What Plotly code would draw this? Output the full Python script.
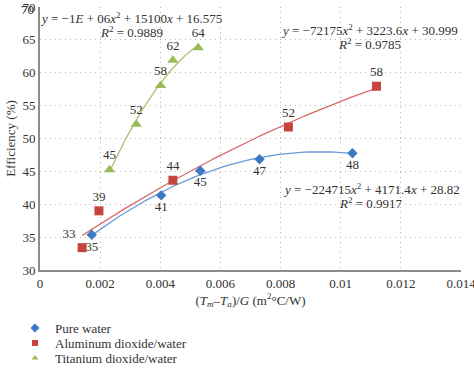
import numpy as np
import plotly.graph_objects as go

# Data
pure_x = [0.00172, 0.00403, 0.00533, 0.00730, 0.01039]
pure_y = [35.35, 41.35, 45.1, 46.85, 47.75]
pure_lbl = ["35", "41", "45", "47", "48"]
pure_pos = ["bottom center"] * 5

alu_x = [0.00140, 0.00196, 0.00442, 0.00826, 0.01119]
alu_y = [33.4, 39.0, 43.65, 51.75, 57.95]
alu_lbl = ["33", "39", "44", "52", "58"]
alu_pos = ["top left", "top center", "top center", "top center", "top center"]

ti_x = [0.00231, 0.00320, 0.00401, 0.00442, 0.00526]
ti_y = [45.25, 52.15, 58.05, 61.9, 63.8]
ti_lbl = ["45", "52", "58", "62", "64"]
ti_pos = ["top center"] * 5

x_ticks = [0, 0.002, 0.004, 0.006, 0.008, 0.01, 0.012, 0.014]
x_ticktext = ["0", "0.002", "0.004", "0.006", "0.008", "0.01", "0.012", "0.014"]
y_ticks = [30, 35, 40, 45, 50, 55, 60, 65, 70]
y_max = 70

eq_ti = ("<i>y</i> = −1<i>E</i> + 06<i>x</i><sup>2</sup> + 15100<i>x</i> + 16.575",
         "<i>R</i><sup>2</sup> = 0.9889")
eq_alu = ("<i>y</i> = −72175<i>x</i><sup>2</sup> + 3223.6<i>x</i> + 30.999",
          "<i>R</i><sup>2</sup> = 0.9785")
eq_pure = ("<i>y</i> = −224715<i>x</i><sup>2</sup> + 4171.4<i>x</i> + 28.82",
           "<i>R</i><sup>2</sup> = 0.9917")

FONT = "Liberation Serif"
TXT = "#333333"
GRID = "#B5B5B5"

series = [
    ("Pure water", pure_x, pure_y, pure_lbl, pure_pos, "#3E78C0", "#6A9AD6", "diamond", 8, 7),
    ("Aluminum dioxide/water", alu_x, alu_y, alu_lbl, alu_pos, "#C8443F", "#D86A66", "square", 9, 6),
    ("Titanium dioxide/water", ti_x, ti_y, ti_lbl, ti_pos, "#9BBB59", "#A9C46E", "triangle-up", 10, 6),
]

L, R, T, B = 40, 461, 7, 270
def px(xpix, ypix):
    return (xpix - L) / (R - L), (B - ypix) / (B - T)

fig = go.Figure()
# trendlines (2nd order polynomial fits of each series)
for s in series:
    name, xs, ys, lbl, pos, mc, lc, sym, sz, lsz = s
    c = np.polyfit(xs, ys, 2)
    xx = np.linspace(min(xs), max(xs), 60)
    fig.add_trace(go.Scatter(x=xx, y=np.polyval(c, xx), mode="lines",
                             line=dict(color=lc, width=1.3), showlegend=False,
                             hoverinfo="skip"))
for s in series:
    name, xs, ys, lbl, pos, mc, lc, sym, sz, lsz = s
    fig.add_trace(go.Scatter(x=xs, y=ys, mode="markers+text", name=name,
                             text=lbl, textposition=pos, showlegend=False,
                             textfont=dict(family=FONT, size=13, color=TXT),
                             marker=dict(symbol=sym, size=sz, color=mc)))

# legend entries, one legend per row for compact spacing
legend_rows = [328, 343, 358]
legend_layout = {}
for i, s in enumerate(series):
    name, xs, ys, lbl, pos, mc, lc, sym, sz, lsz = s
    key = "legend" if i == 0 else f"legend{i + 1}"
    fig.add_trace(go.Scatter(x=[None], y=[None], mode="markers", name=name,
                             legend=key, showlegend=True,
                             marker=dict(symbol=sym, size=lsz, color=mc)))
    lx, ly = px(15, legend_rows[i])
    legend_layout[key] = dict(x=lx, y=ly, xanchor="left", yanchor="middle",
                              font=dict(family=FONT, size=13, color=TXT),
                              itemsizing="trace", bgcolor="rgba(0,0,0,0)")

for (xc, yc), lines in [((131, 18), eq_ti), ((369, 30), eq_alu), ((371, 189), eq_pure)]:
    for i, t in enumerate(lines):
        xp, yp = px(xc, yc + i * 14)
        fig.add_annotation(x=xp, y=yp, xref="paper", yref="paper", text=t,
                           showarrow=False, xanchor="center", yanchor="middle",
                           font=dict(family=FONT, size=13, color=TXT))

# top y tick label (plotly drops it at the div edge)
fig.add_annotation(x=0, y=y_max, xref="paper", yref="y", text=str(y_max),
                   showarrow=False, xanchor="right", yanchor="middle",
                   xshift=-4, yshift=-2,
                   font=dict(family=FONT, size=13, color=TXT))

fig.update_layout(
    width=474, height=370,
    margin=dict(l=L, r=474 - R, t=T, b=370 - B, autoexpand=False),
    paper_bgcolor="white", plot_bgcolor="white",
    font=dict(family=FONT, size=13, color=TXT),
    showlegend=True,
    **legend_layout,
)
fig.update_xaxes(range=[0, 0.014], tickvals=x_ticks, ticktext=x_ticktext,
                 showgrid=True, gridcolor=GRID, griddash="1px,4px", gridwidth=1,
                 showline=True, linecolor="#8C8C8C", linewidth=2, zeroline=False,
                 ticks="", automargin=False, ticklabeloverflow="allow",
                 tickfont=dict(family=FONT, size=13, color=TXT),
                 title=dict(text="(<i>T</i><sub><i>m</i></sub>–<i>T</i><sub><i>a</i></sub>)/<i>G</i> (m<sup>2</sup>°C/W)",
                            font=dict(family=FONT, size=13, color=TXT), standoff=6))
fig.update_yaxes(range=[30, y_max], tickvals=y_ticks,
                 showgrid=True, gridcolor=GRID, griddash="1px,4px", gridwidth=1,
                 showline=True, linecolor="#8C8C8C", linewidth=2, zeroline=False,
                 ticks="", automargin=False, ticklabeloverflow="allow",
                 tickfont=dict(family=FONT, size=13, color=TXT),
                 title=dict(text="Efficiency (%)", font=dict(family=FONT, size=13, color=TXT),
                            standoff=4))

fig.write_html("out.html", config={"displayModeBar": False},
               post_script="document.body.style.margin='0';")
